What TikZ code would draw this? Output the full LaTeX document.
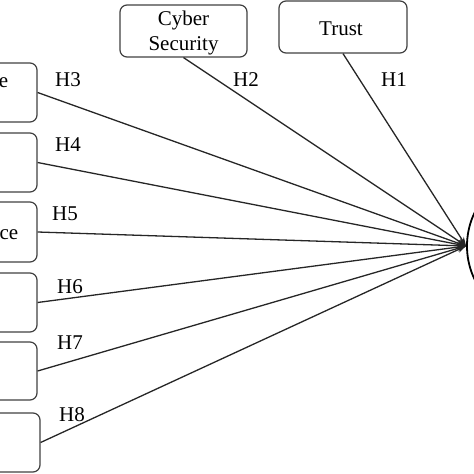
\documentclass[tikz,border=0pt]{standalone}
\usepackage{fontspec}
\setmainfont{Liberation Serif}
\usetikzlibrary{arrows.meta,shapes.geometric}
\begin{document}
\begin{tikzpicture}[x=1pt,y=-1pt,
  box/.style={draw=black!75, line width=1.2pt, rounded corners=7pt, inner sep=0pt},
  lab/.style={font=\fontsize{21}{25}\selectfont, inner sep=0pt, align=center},
  conn/.style={draw=black!85, line width=1.3pt, -{Stealth[length=9pt,width=6pt]}}]
\useasboundingbox (0,0) rectangle (474,474);
\clip (0,0) rectangle (474,474);
% top boxes
\node[box, minimum width=127pt, minimum height=52pt] (cs) at (183.5,31) {};
\node[lab] (cst) at (183.5,33) {Cyber\\Security};
\node[box, minimum width=128pt, minimum height=52pt] (tr) at (343,27) {};
\node[lab] (trt) at (341,29) {Trust};
% left boxes (cut by left edge)
\node[box, minimum width=96pt, minimum height=59pt] (b1) at (-11,92.5) {};
\node[box, minimum width=96pt, minimum height=59pt] (b2) at (-11,162.5) {};
\node[box, minimum width=96pt, minimum height=60pt] (b3) at (-11,232) {};
\node[box, minimum width=96pt, minimum height=59pt] (b4) at (-11,302.5) {};
\node[box, minimum width=96pt, minimum height=58pt] (b5) at (-11,371) {};
\node[box, minimum width=100pt, minimum height=59pt] (b6) at (-10,442.5) {};
\node[lab, anchor=base east] (t1) at (8.5,87) {e};
\node[lab, anchor=base east] (t3) at (18.5,239) {ce};
% dependent variable ellipse (cut by right edge)
\node[draw=black, line width=1.8pt, ellipse, minimum width=126pt, minimum height=140pt] (dv) at (530,246) {};
% connectors
\draw[conn] (tr.south) -- (dv.west);
\draw[conn] (cs.south) -- (dv.west);
\draw[conn] (b1.east) -- (dv.west);
\draw[conn] (b2.east) -- (dv.west);
\draw[conn] (b3.east) -- (dv.west);
\draw[conn] (b4.east) -- (dv.west);
\draw[conn] (b5.east) -- (dv.west);
\draw[conn] (b6.east) -- (dv.west);
% labels
\node[lab] (h1) at (394,80) {H1};
\node[lab] (h2) at (246,80) {H2};
\node[lab] (h3) at (68,80) {H3};
\node[lab] (h4) at (68,145) {H4};
\node[lab] (h5) at (65,214) {H5};
\node[lab] (h6) at (70,287) {H6};
\node[lab] (h7) at (70,343) {H7};
\node[lab] (h8) at (72,415) {H8};
\end{tikzpicture}
\end{document}
